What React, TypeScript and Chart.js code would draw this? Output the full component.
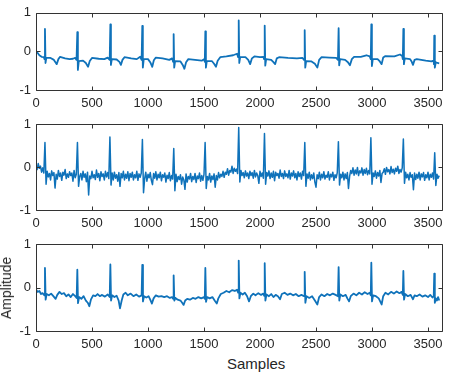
import React, { useEffect, useRef } from "react";
import { Chart, registerables } from "chart.js";

Chart.register(...registerables);

// ---------- data ----------
const xTickValues = [0, 500, 1000, 1500, 2000, 2500, 3000, 3500];
const yTickValues = [-1, 0, 1];
const xMax = 3625;

// Panel 1: clean ECG (sample index, amplitude)
const cleanX = [
  0, 10, 30, 50, 70, 76, 80, 85, 92, 130, 160, 185, 200, 215, 260, 300, 330, 350, 362, 369, 374, 382,
  420, 445, 465, 480, 500, 560, 610, 640, 658, 664, 669, 677, 720, 745, 758, 772, 790, 850, 900, 930,
  943, 949, 954, 962, 1000, 1020, 1038, 1052, 1070, 1130, 1190, 1215, 1224, 1229, 1234, 1242, 1290,
  1310, 1325, 1340, 1360, 1420, 1480, 1500, 1507, 1512, 1517, 1525, 1570, 1590, 1607, 1622, 1645,
  1700, 1760, 1795, 1805, 1810, 1815, 1823, 1870, 1895, 1912, 1928, 1950, 2000, 2030, 2037, 2042,
  2047, 2055, 2100, 2120, 2135, 2150, 2170, 2250, 2330, 2380, 2393, 2399, 2404, 2412, 2460, 2490,
  2512, 2528, 2550, 2620, 2680, 2696, 2702, 2707, 2715, 2760, 2785, 2803, 2820, 2840, 2900, 2950,
  2980, 2989, 2994, 2999, 3007, 3050, 3070, 3086, 3100, 3120, 3200, 3250, 3270, 3275, 3280, 3285,
  3293, 3340, 3355, 3366, 3380, 3400, 3480, 3530, 3550, 3553, 3556, 3561, 3570, 3585, 3600,
];
const cleanY = [
  0.0, -0.02, -0.1, -0.14, -0.15, -0.2, 0.58, -0.3, -0.17, -0.17, -0.22, -0.33, -0.2, -0.14, -0.18,
  -0.2, -0.19, -0.17, -0.22, 0.5, -0.48, -0.25, -0.24, -0.3, -0.4, -0.25, -0.17, -0.19, -0.2, -0.16,
  -0.22, 0.7, -0.35, -0.2, -0.21, -0.27, -0.35, -0.22, -0.15, -0.18, -0.2, -0.14, -0.22, 0.66, -0.42,
  -0.2, -0.2, -0.28, -0.4, -0.23, -0.16, -0.18, -0.22, -0.18, -0.27, 0.45, -0.42, -0.25, -0.26,
  -0.35, -0.45, -0.28, -0.2, -0.22, -0.24, -0.2, -0.27, 0.52, -0.42, -0.25, -0.25, -0.32, -0.4,
  -0.24, -0.15, -0.13, -0.1, -0.06, -0.15, 0.8, -0.3, -0.15, -0.15, -0.22, -0.33, -0.18, -0.13,
  -0.15, -0.14, -0.2, 0.67, -0.37, -0.2, -0.22, -0.28, -0.33, -0.18, -0.15, -0.17, -0.18, -0.17,
  -0.22, 0.55, -0.42, -0.25, -0.26, -0.32, -0.42, -0.22, -0.15, -0.16, -0.17, -0.22, 0.6, -0.36,
  -0.2, -0.22, -0.28, -0.36, -0.2, -0.14, -0.14, -0.1, -0.13, -0.2, 0.7, -0.38, -0.2, -0.2, -0.26,
  -0.33, -0.16, -0.12, -0.13, -0.08, -0.12, -0.2, 0.58, -0.33, -0.18, -0.2, -0.27, -0.35, -0.22,
  -0.2, -0.24, -0.26, -0.24, -0.33, 0.41, -0.42, -0.28, -0.3, -0.31,
];

// Panel 2: noisy ECG, one value every 10 samples (0..3600)
const noisyStep = 10;
const noisyY = [
  0.04, -0.06, 0.08, -0.03, 0.02, -0.12, -0.02, -0.14, 0.57, -0.4,
  -0.1, -0.23, -0.15, -0.3, -0.09, -0.2, -0.13, -0.49, -0.17, -0.28,
  -0.08, -0.22, -0.14, -0.31, -0.12, -0.19, -0.06, -0.27, -0.16, -0.24,
  -0.11, -0.2, -0.14, -0.33, -0.08, -0.25, -0.17, 0.57, -0.45, -0.22,
  -0.15, -0.3, -0.1, -0.24, -0.16, -0.34, -0.12, -0.65, -0.21, -0.27,
  -0.1, -0.25, -0.18, -0.29, -0.07, -0.24, -0.15, -0.32, -0.11, -0.22,
  -0.16, -0.3, -0.1, -0.23, -0.13, -0.27, 0.7, -0.42, -0.14, -0.3,
  -0.12, -0.26, -0.18, -0.33, -0.13, -0.45, -0.15, -0.25, -0.1, -0.3,
  -0.17, -0.26, -0.11, -0.32, -0.15, -0.24, -0.12, -0.3, -0.18, -0.25,
  -0.1, -0.31, -0.16, -0.24, -0.14, 0.64, -0.6, -0.27, -0.12, -0.33,
  -0.17, -0.25, -0.13, -0.31, -0.41, -0.15, -0.26, -0.11, -0.3, -0.17,
  -0.25, -0.12, -0.32, -0.18, -0.24, -0.14, -0.35, -0.19, -0.27, -0.13,
  -0.32, -0.2, -0.28, 0.43, -0.55, -0.17, -0.34, -0.22, -0.29, -0.18,
  -0.4, -0.23, -0.3, -0.52, -0.16, -0.35, -0.22, -0.28, -0.15, -0.34,
  -0.22, -0.29, -0.15, -0.36, -0.21, -0.27, -0.14, -0.33, -0.2, -0.31,
  -0.17, 0.57, -0.5, -0.22, -0.3, -0.15, -0.35, -0.21, -0.29, -0.16,
  -0.47, -0.2, -0.3, -0.13, -0.25, -0.17, -0.22, -0.1, -0.24, -0.12,
  -0.17, -0.04, -0.19, -0.08, -0.12, 0.02, -0.15, -0.03, -0.1, -0.05,
  -0.15, 0.92, -0.35, -0.08, -0.2, -0.13, -0.25, -0.09, -0.21, -0.14,
  -0.27, -0.1, -0.2, -0.13, -0.26, -0.08, -0.23, -0.14, -0.2, -0.38,
  -0.1, -0.22, -0.14, -0.26, 0.78, -0.4, -0.13, -0.21, -0.09, -0.27,
  -0.14, -0.24, -0.1, -0.32, -0.12, -0.2, -0.15, -0.26, -0.07, -0.22,
  -0.15, -0.27, -0.09, -0.22, -0.16, -0.25, -0.08, -0.28, -0.14, -0.21,
  -0.09, -0.25, -0.15, -0.3, -0.11, -0.22, -0.14, -0.28, -0.1, -0.2,
  0.57, -0.45, -0.16, -0.26, -0.12, -0.3, -0.18, -0.27, -0.14, -0.35,
  -0.47, -0.18, -0.27, -0.12, -0.3, -0.17, -0.25, -0.11, -0.28, -0.19,
  -0.24, -0.11, -0.3, -0.17, -0.23, -0.12, -0.31, -0.18, -0.25, -0.13,
  0.59, -0.42, -0.17, -0.25, -0.12, -0.3, -0.16, -0.27, -0.13, -0.5,
  -0.22, -0.08, -0.15, -0.02, -0.19, -0.07, -0.16, -0.01, -0.2, -0.09,
  -0.14, -0.02, -0.19, -0.06, -0.15, -0.03, -0.18, -0.08, -0.16, 0.68,
  -0.4, -0.14, -0.22, -0.09, -0.26, -0.13, -0.21, -0.08, -0.36, -0.15,
  -0.12, -0.04, -0.17, -0.01, -0.11, -0.06, -0.16, 0.01, -0.13, -0.05,
  -0.16, -0.03, -0.1, 0.02, -0.15, -0.06, -0.12, -0.02, 0.65, -0.38,
  -0.12, -0.25, -0.17, -0.3, -0.13, -0.24, -0.18, -0.53, -0.14, -0.29,
  -0.17, -0.26, -0.12, -0.3, -0.16, -0.23, -0.13, -0.31, -0.18, -0.25,
  -0.12, -0.3, -0.17, -0.24, -0.14, -0.28, 0.33, -0.43, -0.17, -0.26,
  -0.2,
];

// Panel 3: denoised ECG (sample index, amplitude)
const denoisedX = [
  0, 15, 30, 45, 60, 74, 80, 86, 95, 115, 135, 155, 175, 190, 210, 230, 250, 270, 290, 310, 330, 350,
  363, 369, 375, 385, 405, 425, 445, 462, 476, 490, 510, 530, 550, 570, 590, 615, 640, 658, 664, 670,
  680, 700, 720, 738, 750, 765, 780, 800, 820, 845, 870, 895, 920, 943, 949, 955, 965, 985, 1005,
  1020, 1035, 1050, 1070, 1095, 1120, 1145, 1170, 1195, 1215, 1224, 1229, 1235, 1245, 1265, 1290,
  1305, 1318, 1332, 1350, 1375, 1400, 1425, 1450, 1475, 1500, 1507, 1512, 1518, 1528, 1550, 1575,
  1595, 1614, 1628, 1650, 1675, 1700, 1725, 1750, 1775, 1795, 1805, 1810, 1816, 1825, 1845, 1865,
  1885, 1902, 1918, 1940, 1960, 1985, 2010, 2030, 2037, 2042, 2048, 2058, 2080, 2100, 2120, 2140,
  2160, 2179, 2195, 2220, 2245, 2270, 2295, 2320, 2345, 2370, 2393, 2399, 2405, 2415, 2440, 2465,
  2490, 2512, 2528, 2550, 2575, 2600, 2625, 2650, 2675, 2696, 2702, 2708, 2718, 2740, 2765, 2780,
  2795, 2810, 2835, 2860, 2885, 2910, 2935, 2960, 2980, 2989, 2994, 3000, 3010, 3035, 3060, 3086,
  3100, 3120, 3145, 3170, 3195, 3220, 3245, 3265, 3275, 3280, 3286, 3296, 3320, 3345, 3366, 3380,
  3400, 3425, 3450, 3475, 3500, 3520, 3540, 3551, 3556, 3561, 3570, 3580, 3590, 3600,
];
const denoisedY = [
  -0.05, -0.1, -0.08, -0.15, -0.13, -0.18, 0.45, -0.28, -0.15, -0.18, -0.14, -0.2, -0.26, -0.17,
  -0.1, -0.15, -0.13, -0.2, -0.16, -0.22, -0.15, -0.2, -0.24, 0.41, -0.36, -0.22, -0.26, -0.2, -0.3,
  -0.35, -0.43, -0.28, -0.18, -0.2, -0.15, -0.2, -0.17, -0.21, -0.16, -0.22, 0.53, -0.3, -0.18,
  -0.22, -0.19, -0.3, -0.48, -0.3, -0.16, -0.12, -0.18, -0.14, -0.2, -0.16, -0.21, -0.18, 0.52,
  -0.32, -0.2, -0.23, -0.2, -0.28, -0.37, -0.25, -0.18, -0.21, -0.2, -0.22, -0.2, -0.24, -0.22,
  -0.26, 0.28, -0.3, -0.24, -0.28, -0.3, -0.35, -0.4, -0.3, -0.26, -0.28, -0.24, -0.26, -0.22,
  -0.25, -0.22, -0.26, 0.45, -0.33, -0.22, -0.25, -0.22, -0.3, -0.37, -0.25, -0.15, -0.12, -0.08,
  -0.11, -0.06, -0.08, -0.05, -0.12, 0.62, -0.25, -0.12, -0.16, -0.12, -0.2, -0.32, -0.2, -0.14,
  -0.18, -0.13, -0.17, -0.14, -0.19, 0.56, -0.3, -0.16, -0.2, -0.15, -0.22, -0.17, -0.2, -0.27,
  -0.15, -0.12, -0.17, -0.14, -0.18, -0.15, -0.2, -0.17, -0.2, 0.36, -0.35, -0.2, -0.24, -0.2,
  -0.3, -0.39, -0.22, -0.16, -0.2, -0.15, -0.18, -0.14, -0.17, -0.2, 0.47, -0.3, -0.16, -0.2, -0.17,
  -0.25, -0.32, -0.2, -0.14, -0.18, -0.12, -0.16, -0.11, -0.15, -0.12, -0.18, 0.57, -0.32, -0.18,
  -0.2, -0.25, -0.39, -0.2, -0.12, -0.16, -0.1, -0.14, -0.09, -0.13, -0.1, -0.17, 0.38, -0.28,
  -0.15, -0.2, -0.17, -0.27, -0.18, -0.2, -0.16, -0.21, -0.18, -0.22, -0.17, -0.23, -0.2, 0.32,
  -0.35, -0.25, -0.3, -0.22, -0.3,
];

// ---------- styling ----------
const LINE_COLOR = "#0f72ba";
const AXIS_COLOR = "#333333";
const TEXT_COLOR = "#262626";
const FONT_FAMILY = "'Liberation Sans', Arial, Helvetica, sans-serif";

const framePlugin = {
  id: "matlabFrame",
  afterDraw(chart: any) {
    const { ctx, chartArea: a, scales } = chart;
    ctx.save();
    ctx.strokeStyle = AXIS_COLOR;
    ctx.lineWidth = 1;
    const L = Math.round(a.left) + 0.5;
    const R = Math.round(a.right) + 0.5;
    const T = Math.round(a.top) + 0.5;
    const B = Math.round(a.bottom) + 0.5;
    ctx.beginPath();
    ctx.rect(L, T, R - L, B - T);
    const tl = 4;
    xTickValues.forEach((v) => {
      const px = Math.round(scales.x.getPixelForValue(v)) + 0.5;
      ctx.moveTo(px, B);
      ctx.lineTo(px, B - tl);
      ctx.moveTo(px, T);
      ctx.lineTo(px, T + tl);
    });
    yTickValues.forEach((v) => {
      const py = Math.round(scales.y.getPixelForValue(v)) + 0.5;
      ctx.moveTo(L, py);
      ctx.lineTo(L + tl, py);
      ctx.moveTo(R, py);
      ctx.lineTo(R - tl, py);
    });
    ctx.stroke();
    ctx.restore();
  },
};

type PanelProps = {
  xs: number[];
  ys: number[];
  top: number;
  height: number;
  plotTop: number;
  plotBottom: number;
  lineWidth: number;
};

const PLOT_LEFT = 36;
const PLOT_RIGHT = 442;
const WIDTH = 474;

function Panel({ xs, ys, top, height, plotTop, plotBottom, lineWidth }: PanelProps) {
  const ref = useRef<HTMLCanvasElement | null>(null);
  useEffect(() => {
    if (!ref.current) return;
    const points = xs.map((x, i) => ({ x, y: ys[i] }));
    const tickFont = { family: FONT_FAMILY, size: 13 };
    const chart = new Chart(ref.current, {
      type: "line",
      data: {
        datasets: [
          {
            data: points,
            borderColor: LINE_COLOR,
            borderWidth: lineWidth,
            pointRadius: 0,
            tension: 0,
            fill: false,
            borderJoinStyle: "round",
          },
        ],
      },
      options: {
        animation: false,
        responsive: false,
        devicePixelRatio: 1,
        events: [],
        layout: {
          padding: { left: 0, top: plotTop - top, right: WIDTH - PLOT_RIGHT, bottom: 0 },
        },
        plugins: { legend: { display: false }, tooltip: { enabled: false } },
        scales: {
          x: {
            type: "linear",
            min: 0,
            max: xMax,
            grid: { display: false, drawTicks: false },
            border: { display: false },
            afterBuildTicks: (s: any) => {
              s.ticks = xTickValues.map((v) => ({ value: v }));
            },
            afterFit: (s: any) => {
              s.height = top + height - plotBottom;
            },
            ticks: {
              autoSkip: false,
              maxRotation: 0,
              padding: 6,
              color: TEXT_COLOR,
              font: tickFont,
              callback: (v: any) => String(v),
            },
          },
          y: {
            type: "linear",
            min: -1,
            max: 1,
            grid: { display: false, drawTicks: false },
            border: { display: false },
            afterBuildTicks: (s: any) => {
              s.ticks = yTickValues.map((v) => ({ value: v }));
            },
            afterFit: (s: any) => {
              s.width = PLOT_LEFT;
            },
            ticks: {
              padding: 5,
              color: TEXT_COLOR,
              font: tickFont,
              callback: (v: any) => String(v),
            },
          },
        },
      },
      plugins: [framePlugin],
    });
    return () => chart.destroy();
  }, []);
  return (
    <canvas
      ref={ref}
      width={WIDTH}
      height={height}
      style={{ position: "absolute", left: 0, top, width: WIDTH, height }}
    />
  );
}

export default function App() {
  const noisyX = noisyY.map((_, i) => i * noisyStep);
  return (
    <div
      style={{
        position: "fixed",
        left: 0,
        top: 0,
        width: WIDTH,
        height: 392,
        background: "#ffffff",
        overflow: "hidden",
      }}
    >
      <Panel xs={cleanX} ys={cleanY} top={0} height={110} plotTop={4} plotBottom={90} lineWidth={1.8} />
      <Panel xs={noisyX} ys={noisyY} top={110} height={120} plotTop={124} plotBottom={210} lineWidth={1.5} />
      <Panel xs={denoisedX} ys={denoisedY} top={230} height={121} plotTop={244} plotBottom={331} lineWidth={1.8} />
      <div
        style={{
          position: "absolute",
          left: 227,
          top: 356,
          fontFamily: FONT_FAMILY,
          fontSize: 15,
          lineHeight: "15px",
          color: TEXT_COLOR,
          whiteSpace: "nowrap",
        }}
      >
        Samples
      </div>
      <div
        style={{
          position: "absolute",
          left: 6,
          top: 287.5,
          transform: "translate(-50%, -50%) rotate(-90deg)",
          fontFamily: FONT_FAMILY,
          fontSize: 14,
          lineHeight: "14px",
          color: TEXT_COLOR,
          whiteSpace: "nowrap",
        }}
      >
        Amplitude
      </div>
    </div>
  );
}
